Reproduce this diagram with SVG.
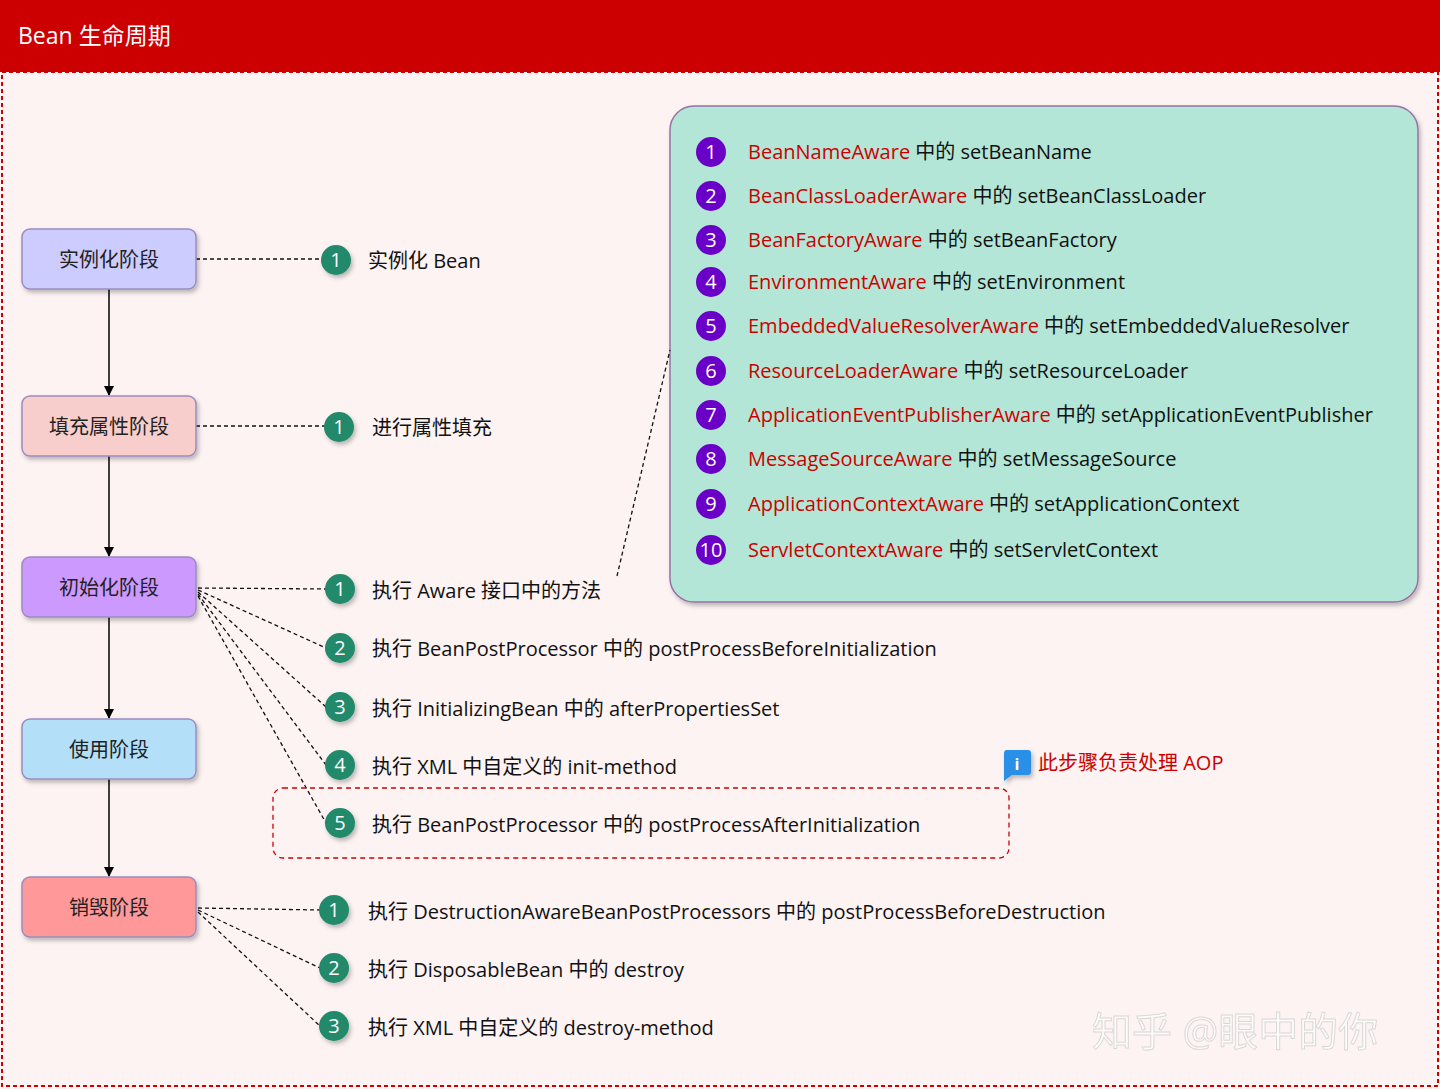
<svg xmlns="http://www.w3.org/2000/svg" width="1440" height="1089" viewBox="0 0 1440 1089">
<defs>
<style>
text{font-family:"Open Sans","Noto Sans","Noto Sans CJK SC",sans-serif;}
.ph{stroke:#9a8cc0;stroke-width:1.5;}
.pt{font-size:20px;fill:#222;text-anchor:middle;}
.t{font-size:20px;fill:#111;}
.g{fill:#23896a;}
.p{fill:#6a00c8;}
.bn{font-size:20px;fill:#fff;text-anchor:middle;}
.d{stroke:#111;stroke-width:1.3;stroke-dasharray:4 3;fill:none;}
</style>
<marker id="ah" markerWidth="10" markerHeight="10" refX="9" refY="5" orient="auto" markerUnits="userSpaceOnUse"><path d="M0,0 L10,5 L0,10 z" fill="#000"/></marker>
<filter id="sh" x="-10%" y="-10%" width="130%" height="140%"><feDropShadow dx="2" dy="3" stdDeviation="2" flood-opacity="0.25"/></filter>
</defs>
<rect width="1440" height="1089" fill="#fdf3f3"/>
<rect x="0" y="0" width="1440" height="72" fill="#cc0000"/>
<text x="18" y="44" font-size="23" fill="#fff">Bean 生命周期</text>
<rect x="2" y="72" width="1436" height="1014" fill="none" stroke="#cc0000" stroke-width="2" stroke-dasharray="4 3"/>

<g id="panel"><rect x="670" y="106" width="748" height="496" rx="24" fill="#b3e6d6" stroke="#9673a6" stroke-width="1.5" filter="url(#sh)"/></g>
<g id="aware" font-size="20">
<g><circle cx="711" cy="152" r="15" class="p"/><text x="711" y="159" class="bn">1</text><text x="748" y="159" class="t"><tspan fill="#cc0000">BeanNameAware</tspan> 中的 setBeanName</text></g>
<g><circle cx="711" cy="196" r="15" class="p"/><text x="711" y="203" class="bn">2</text><text x="748" y="203" class="t"><tspan fill="#cc0000">BeanClassLoaderAware</tspan> 中的 setBeanClassLoader</text></g>
<g><circle cx="711" cy="240" r="15" class="p"/><text x="711" y="247" class="bn">3</text><text x="748" y="247" class="t"><tspan fill="#cc0000">BeanFactoryAware</tspan> 中的 setBeanFactory</text></g>
<g><circle cx="711" cy="282" r="15" class="p"/><text x="711" y="289" class="bn">4</text><text x="748" y="289" class="t"><tspan fill="#cc0000">EnvironmentAware</tspan> 中的 setEnvironment</text></g>
<g><circle cx="711" cy="326" r="15" class="p"/><text x="711" y="333" class="bn">5</text><text x="748" y="333" class="t"><tspan fill="#cc0000">EmbeddedValueResolverAware</tspan> 中的 setEmbeddedValueResolver</text></g>
<g><circle cx="711" cy="371" r="15" class="p"/><text x="711" y="378" class="bn">6</text><text x="748" y="378" class="t"><tspan fill="#cc0000">ResourceLoaderAware</tspan> 中的 setResourceLoader</text></g>
<g><circle cx="711" cy="415" r="15" class="p"/><text x="711" y="422" class="bn">7</text><text x="748" y="422" class="t"><tspan fill="#cc0000">ApplicationEventPublisherAware</tspan> 中的 setApplicationEventPublisher</text></g>
<g><circle cx="711" cy="459" r="15" class="p"/><text x="711" y="466" class="bn">8</text><text x="748" y="466" class="t"><tspan fill="#cc0000">MessageSourceAware</tspan> 中的 setMessageSource</text></g>
<g><circle cx="711" cy="504" r="15" class="p"/><text x="711" y="511" class="bn">9</text><text x="748" y="511" class="t"><tspan fill="#cc0000">ApplicationContextAware</tspan> 中的 setApplicationContext</text></g>
<g><circle cx="711" cy="550" r="15" class="p"/><text x="711" y="557" class="bn">10</text><text x="748" y="557" class="t"><tspan fill="#cc0000">ServletContextAware</tspan> 中的 setServletContext</text></g>
</g>

<g id="connectors">
<line x1="109" y1="289" x2="109" y2="395" stroke="#000" stroke-width="1.5" marker-end="url(#ah)"/>
<line x1="109" y1="456" x2="109" y2="556" stroke="#000" stroke-width="1.5" marker-end="url(#ah)"/>
<line x1="109" y1="617" x2="109" y2="718" stroke="#000" stroke-width="1.5" marker-end="url(#ah)"/>
<line x1="109" y1="779" x2="109" y2="876" stroke="#000" stroke-width="1.5" marker-end="url(#ah)"/>
<line x1="196" y1="259" x2="322" y2="259" class="d"/>
<line x1="196" y1="426" x2="325" y2="426" class="d"/>
<line x1="198" y1="588" x2="326" y2="589" class="d"/>
<line x1="198" y1="590" x2="326" y2="648" class="d"/>
<line x1="198" y1="592" x2="326" y2="707" class="d"/>
<line x1="198" y1="594" x2="326" y2="765" class="d"/>
<line x1="198" y1="596" x2="326" y2="823" class="d"/>
<line x1="198" y1="908" x2="320" y2="910" class="d"/>
<line x1="198" y1="910" x2="320" y2="968" class="d"/>
<line x1="198" y1="912" x2="320" y2="1026" class="d"/>
<line x1="617" y1="576" x2="670" y2="350" class="d"/>
</g>

<g id="phases">
<g id="p1"><rect x="22" y="229" width="174" height="60" rx="8" fill="#ccccff" class="ph" filter="url(#sh)"/><text x="109" y="267" class="pt">实例化阶段</text></g>
<g id="p2"><rect x="22" y="396" width="174" height="60" rx="8" fill="#f8cecc" class="ph" filter="url(#sh)"/><text x="109" y="434" class="pt">填充属性阶段</text></g>
<g id="p3"><rect x="22" y="557" width="174" height="60" rx="8" fill="#cc99ff" class="ph" filter="url(#sh)"/><text x="109" y="595" class="pt">初始化阶段</text></g>
<g id="p4"><rect x="22" y="719" width="174" height="60" rx="8" fill="#b3e0f8" class="ph" filter="url(#sh)"/><text x="109" y="757" class="pt">使用阶段</text></g>
<g id="p5"><rect x="22" y="877" width="174" height="60" rx="8" fill="#ff9999" class="ph" filter="url(#sh)"/><text x="109" y="915" class="pt">销毁阶段</text></g>
</g>

<g id="aop-box"><rect x="273" y="788" width="736" height="70" rx="10" fill="none" stroke="#cc0000" stroke-width="1.3" stroke-dasharray="5 4"/></g>

<g id="steps">
<g><circle cx="336" cy="260" r="15" class="g" filter="url(#sh)"/><text x="336" y="267" class="bn">1</text><text x="368" y="268" class="t">实例化 Bean</text></g>
<g><circle cx="339" cy="427" r="15" class="g" filter="url(#sh)"/><text x="339" y="434" class="bn">1</text><text x="372" y="435" class="t">进行属性填充</text></g>
<g><circle cx="340" cy="589" r="15" class="g" filter="url(#sh)"/><text x="340" y="596" class="bn">1</text><text x="372" y="598" class="t">执行 Aware 接口中的方法</text></g>
<g><circle cx="340" cy="648" r="15" class="g" filter="url(#sh)"/><text x="340" y="655" class="bn">2</text><text x="372" y="656" class="t">执行 BeanPostProcessor 中的 postProcessBeforeInitialization</text></g>
<g><circle cx="340" cy="707" r="15" class="g" filter="url(#sh)"/><text x="340" y="714" class="bn">3</text><text x="372" y="716" class="t">执行 InitializingBean 中的 afterPropertiesSet</text></g>
<g><circle cx="340" cy="765" r="15" class="g" filter="url(#sh)"/><text x="340" y="772" class="bn">4</text><text x="372" y="774" class="t">执行 XML 中自定义的 init-method</text></g>
<g><circle cx="340" cy="823" r="15" class="g" filter="url(#sh)"/><text x="340" y="830" class="bn">5</text><text x="372" y="832" class="t">执行 BeanPostProcessor 中的 postProcessAfterInitialization</text></g>
<g><circle cx="334" cy="910" r="15" class="g" filter="url(#sh)"/><text x="334" y="917" class="bn">1</text><text x="368" y="919" class="t">执行 DestructionAwareBeanPostProcessors 中的 postProcessBeforeDestruction</text></g>
<g><circle cx="334" cy="968" r="15" class="g" filter="url(#sh)"/><text x="334" y="975" class="bn">2</text><text x="368" y="977" class="t">执行 DisposableBean 中的 destroy</text></g>
<g><circle cx="334" cy="1026" r="15" class="g" filter="url(#sh)"/><text x="334" y="1033" class="bn">3</text><text x="368" y="1035" class="t">执行 XML 中自定义的 destroy-method</text></g>
</g>

<g id="note">
<path d="M1006,750 h22 a3,3 0 0 1 3,3 v19 a3,3 0 0 1 -3,3 h-16 l-8,6 v-28 a3,3 0 0 1 2,-3z" fill="#2b8fe6" filter="url(#sh)"/>
<text x="1017" y="770" font-size="16" fill="#fff" text-anchor="middle" font-weight="bold">i</text>
<text x="1038" y="770" font-size="20" fill="#cc0000">此步骤负责处理 AOP</text>
</g>
<text x="1092" y="1046" font-size="40" fill="#ffffff" opacity="0.7" stroke="#cccccc" stroke-width="1">知乎 @眼中的你</text>
</svg>
